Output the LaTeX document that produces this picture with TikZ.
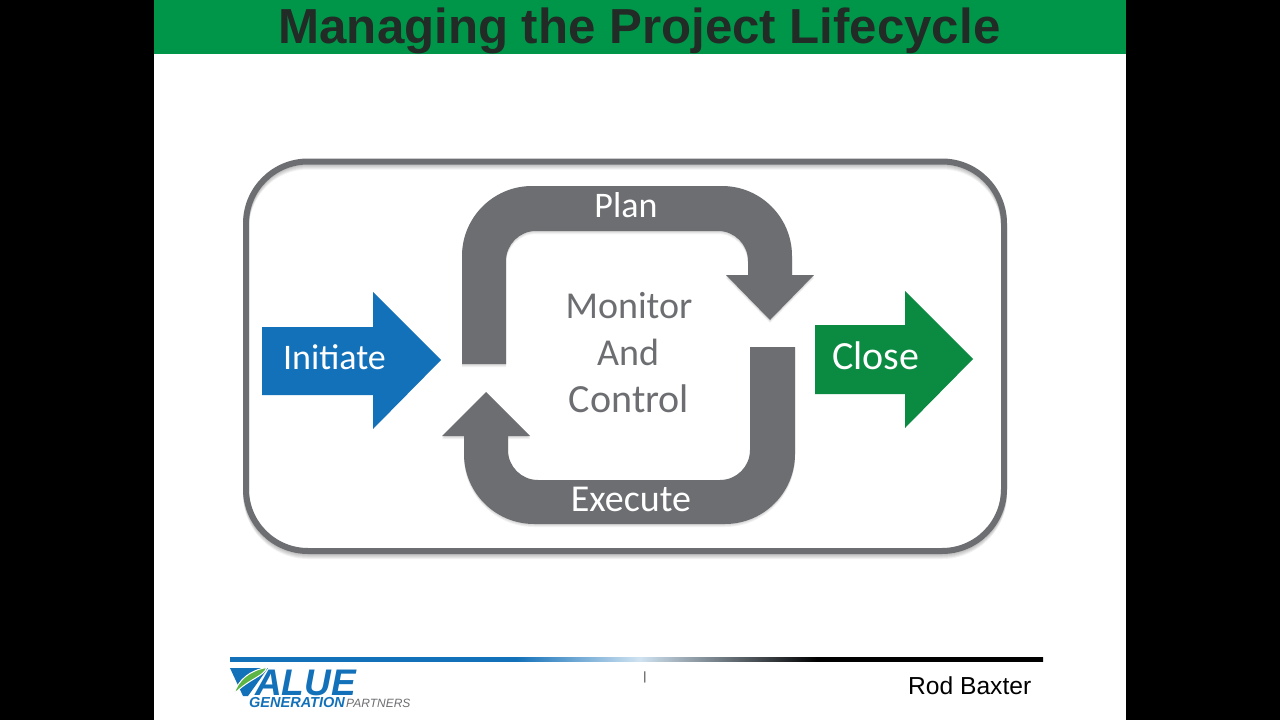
\documentclass[tikz,border=0pt]{standalone}
\usepackage{fontspec}
\setmainfont{Liberation Sans}
\newfontfamily\labelfont{Carlito}
\usetikzlibrary{positioning}
\definecolor{slidegreen}{HTML}{00964A}
\definecolor{loopgray}{HTML}{6D6E71}
\definecolor{initblue}{HTML}{1371B9}
\definecolor{closegreen}{HTML}{0B8A41}
\definecolor{titleink}{HTML}{222B26}
\definecolor{leafgreen}{HTML}{5DB545}
\pgfdeclarehorizontalshading{footerfade}{100bp}{
  color(0bp)=(initblue); color(42.6bp)=(initblue); color(50.2bp)=(initblue!20!white);
  color(61.1bp)=(black); color(100bp)=(black)}
\tikzset{
  looplabel/.style={text=white,font=\labelfont\fontsize{36}{36}\selectfont,inner sep=0pt},
  midlabel/.style={text=loopgray,font=\labelfont\fontsize{38}{38}\selectfont,inner sep=0pt},
  logotext/.style={font=\bfseries\itshape,text=initblue,inner sep=0pt,anchor=base west}
}
\newcommand{\planpath}{(462,364) -- (462,256) arc (180:270:70) -- (722,186) arc (-90:0:70) -- (792,275) -- (814,275) -- (770,320) -- (726,275) -- (748,275) -- (748,261) arc (0:-90:30) -- (536,231) arc (270:180:30) -- (506,364) -- cycle}
\newcommand{\executepath}{(795,347) -- (795,454) arc (0:90:70) -- (534,524) arc (90:180:70) -- (464,436) -- (442,436) -- (486,392) -- (530,436) -- (508,436) -- (508,450) arc (180:90:30) -- (720,480) arc (90:0:30) -- (750,347) -- cycle}
\begin{document}
\begin{tikzpicture}[x=1pt,y=-1pt]
  \useasboundingbox (0,0) rectangle (1280,720);
  \fill[black] (0,0) rectangle (1280,720);
  \fill[white] (154,0) rectangle (1126,720);
  \fill[slidegreen] (154,0) rectangle (1126,54);
  \node[text=titleink,font=\bfseries\fontsize{49.2}{49}\selectfont,inner sep=0pt] (title) at (639.5,31) {Managing the Project Lifecycle};

  % outer frame
  \foreach \d in {1,2,3,4,5}
    \draw[black,opacity=.05,line width=6pt,rounded corners=62pt,yshift=-\d pt] (246,161.5) rectangle (1004,551);
  \draw[loopgray,line width=6pt,rounded corners=62pt] (246,161.5) rectangle (1004,551);

  % side arrows
  \fill[initblue] (262,327) -- (373,327) -- (373,292) -- (441,360) -- (373,429) -- (373,395) -- (262,395) -- cycle;
  \fill[closegreen] (815,325) -- (905,325) -- (905,291) -- (973,359) -- (905,428) -- (905,394) -- (815,394) -- cycle;

  % loop
  \foreach \d in {1,2,3}{
    \fill[black,opacity=.05,yshift=-\d pt] \planpath;
    \fill[black,opacity=.05,yshift=-\d pt] \executepath;
  }
  \fill[loopgray] \planpath;
  \fill[loopgray] \executepath;

  \node[looplabel] (plan) at (626,205) {Plan};
  \node[looplabel,font=\labelfont\fontsize{38}{38}\selectfont] (execute) at (631,499) {Execute};
  \node[looplabel] (initiate) at (334.5,357) {Initiate};
  \node[looplabel,font=\labelfont\fontsize{40}{40}\selectfont] (close) at (876,356) {Close};
  \node[midlabel] (monitor) at (629,306) {Monitor};
  \node[midlabel] (and) at (628,352) {And};
  \node[midlabel,font=\labelfont\fontsize{40}{40}\selectfont] (control) at (629,399) {Control};

  % footer
  \shade[shading=footerfade] (230,657) rectangle (1043,661);
  \node[inner sep=0pt,font=\fontsize{12}{12}\selectfont,text=black!80] (mark) at (645,677) {|};
  \node[inner sep=0pt,anchor=base west,font=\fontsize{24.6}{25}\selectfont] (author) at (908,694) {Rod Baxter};

  % logo
  \fill[initblue] (230,668) -- (268,668) -- (248,696) -- (243,696) -- cycle;
  \fill[leafgreen,draw=white,line width=1pt] (234,694) .. controls (238,680) and (250,670) .. (267,667.5) .. controls (263,677) and (250,678) .. (234,694) -- cycle;
  \node[logotext,font=\bfseries\itshape\fontsize{37}{37}\selectfont] (alue) at (255,695.5) {ALUE};
  \node[logotext,font=\bfseries\itshape\fontsize{14.5}{14.5}\selectfont] (generation) at (249,707.5) {GENERATION};
  \node[inner sep=0pt,anchor=base west,text=loopgray,font=\itshape\fontsize{12}{12}\selectfont] (partners) at (346,707.5) {PARTNERS};
\end{tikzpicture}
\end{document}
